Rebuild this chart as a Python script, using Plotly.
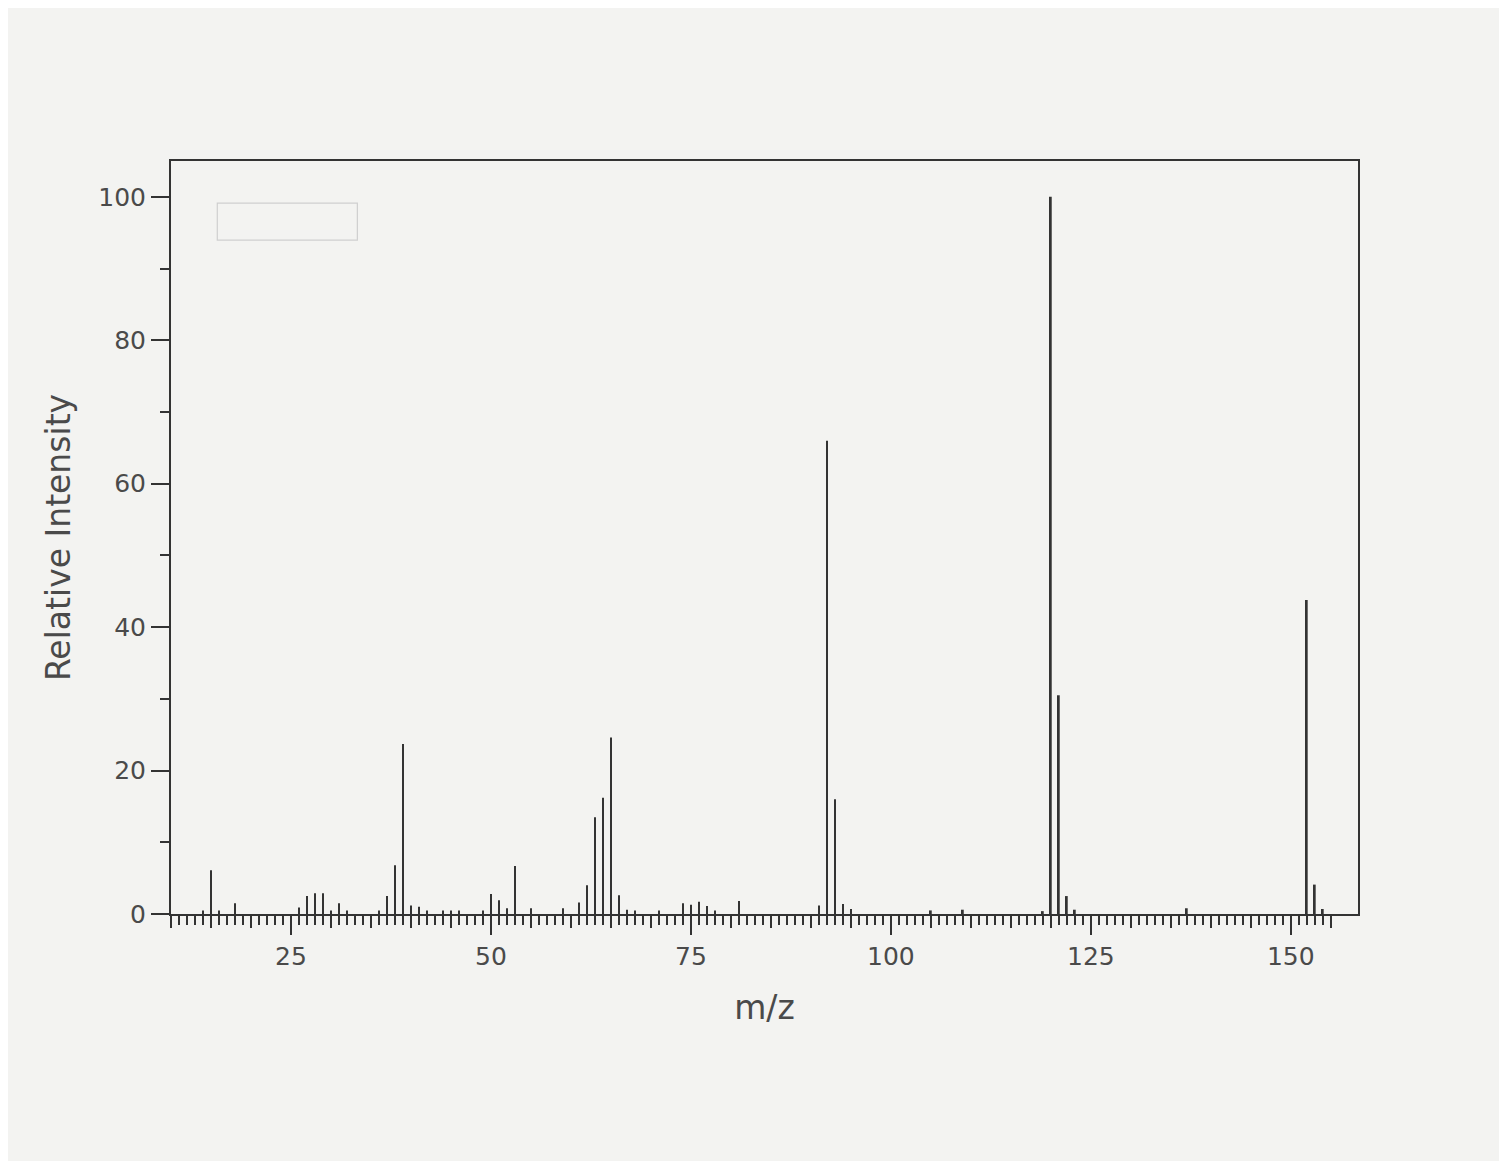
import plotly.graph_objects as go

# m/z values and relative intensities
mz = [14, 15, 16, 18, 26, 27, 28, 29, 30, 31, 32, 36, 37, 38, 39, 40, 41, 42,
      44, 45, 46, 49, 50, 51, 52, 53, 55, 59, 61, 62, 63, 64, 65, 66, 67, 68,
      71, 74, 75, 76, 77, 78, 81, 91, 92, 93, 94, 95, 105, 109, 119, 120, 121,
      122, 123, 137, 152, 153, 154]
intensity = [0.5, 6.1, 0.5, 1.5, 0.9, 2.5, 2.9, 2.9, 0.5, 1.5, 0.5, 0.5, 2.5, 6.8, 23.7, 1.2, 1.0, 0.5,
             0.5, 0.5, 0.5, 0.5, 2.8, 1.9, 0.8, 6.7, 0.8, 0.8, 1.6, 4.0, 13.5, 16.2, 24.6, 2.6, 0.6, 0.5,
             0.5, 1.5, 1.3, 1.7, 1.1, 0.5, 1.8, 1.2, 66.0, 16.0, 1.4, 0.7, 0.5, 0.6, 0.4, 100.0, 30.5,
             2.5, 0.6, 0.8, 43.8, 4.1, 0.7]

x_major_ticks = [25, 50, 75, 100, 125, 150]
x_mid_ticks = list(range(10, 156, 5))
x_minor_ticks = list(range(10, 156, 1))
y_major_ticks = [0, 20, 40, 60, 80, 100]
y_minor_ticks = [10, 30, 50, 70, 90]

bg = "#f3f3f1"
ink = "#333333"
txt = "#4a4a4a"
font_family = "DejaVu Sans"

fig = go.Figure()
fig.add_trace(go.Bar(x=mz, y=intensity, width=0.22,
                     marker=dict(color=ink, line=dict(width=0)),
                     showlegend=False, hoverinfo="x+y"))

fig.update_layout(
    width=1507, height=1161,
    margin=dict(l=163, r=157, t=153, b=255),
    paper_bgcolor=bg, plot_bgcolor=bg,
    font=dict(family=font_family, color=txt),
    xaxis=dict(
        range=[10, 158.4], tickmode="array", tickvals=x_major_ticks,
        ticks="outside", ticklen=19, tickwidth=1.5, tickcolor=ink,
        showline=True, linecolor=ink, linewidth=2, mirror=True,
        showgrid=False, zeroline=False,
        tickfont=dict(size=25, color=txt),
        minor=dict(tickmode="array", tickvals=x_minor_ticks, ticks="outside",
                   ticklen=9, tickwidth=1.5, tickcolor=ink, showgrid=False),
        title=dict(text="m/z", font=dict(size=33, color=txt), standoff=26),
    ),
    xaxis2=dict(
        range=[10, 158.4], overlaying="x", side="bottom", anchor="y",
        tickmode="array", tickvals=x_mid_ticks, ticks="outside",
        ticklen=13, tickwidth=1.5, tickcolor=ink, showticklabels=False,
        showline=False, showgrid=False, zeroline=False,
    ),
    yaxis=dict(
        range=[0, 105], tickmode="array", tickvals=y_major_ticks,
        ticks="outside", ticklen=18, tickwidth=1.5, tickcolor=ink,
        showline=True, linecolor=ink, linewidth=2, mirror=True,
        showgrid=False, zeroline=False,
        tickfont=dict(size=25, color=txt),
        minor=dict(tickmode="array", tickvals=y_minor_ticks, ticks="outside",
                   ticklen=9, tickwidth=1.5, tickcolor=ink, showgrid=False),
        title=dict(text="Relative Intensity", font=dict(size=33, color=txt), standoff=18),
    ),
    shapes=[dict(type="rect", xref="paper", yref="paper",
                 x0=0.039, x1=0.157, y0=0.895, y1=0.944,
                 line=dict(color="#cfcfcf", width=1.2), fillcolor="rgba(0,0,0,0)")],
)
# dummy trace to activate xaxis2
fig.add_trace(go.Scatter(x=[None], y=[None], xaxis="x2", showlegend=False, hoverinfo="skip"))

fig.write_html("out.html")
